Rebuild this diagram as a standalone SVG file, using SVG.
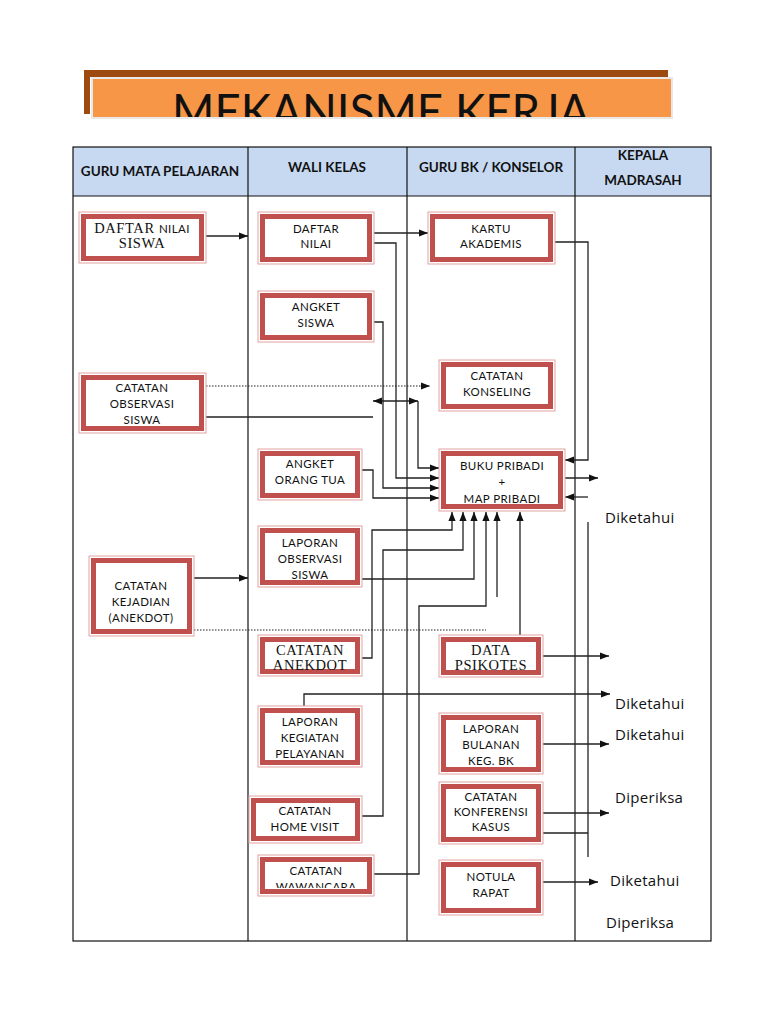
<svg xmlns="http://www.w3.org/2000/svg" width="768" height="1024" viewBox="0 0 768 1024">
<defs>
<style>
.t{font-family:Lato,"Liberation Sans",sans-serif;font-size:11.5px;letter-spacing:0.4px;fill:#111;text-anchor:middle}
.s{font-family:"Liberation Serif",serif;font-size:14.5px;letter-spacing:0.6px;fill:#111;text-anchor:middle}
.h{font-family:Lato,"Liberation Sans",sans-serif;font-size:13.5px;font-weight:bold;fill:#111;text-anchor:middle}
.k{font-family:"Open Sans","Liberation Sans",sans-serif;font-size:15px;letter-spacing:0.3px;fill:#111}
.bo{fill:#fff;stroke:#e3a3a1;stroke-width:1}
.bi{fill:#fff;stroke:#c0504d;stroke-width:5}
.c{fill:none;stroke:#222;stroke-width:1.3}
.d{fill:none;stroke:#222;stroke-width:1.1;stroke-dasharray:1.5 1.5}
</style>
<marker id="a" viewBox="0 0 10 10" refX="10" refY="5" markerWidth="9" markerHeight="9" markerUnits="userSpaceOnUse" orient="auto-start-reverse"><path d="M0,1 L10,5 L0,9 z" fill="#111"/></marker>
<clipPath id="tc"><rect x="92" y="78" width="580" height="39"/></clipPath>
<clipPath id="wc"><rect x="258" y="855" width="116" height="33"/></clipPath>
</defs>
<rect width="768" height="1024" fill="#fff"/>
<g id="title">
<path d="M84,70 H668 V77 H90 V114 H84 Z" fill="#9c4a0f"/>
<rect x="92" y="78" width="580" height="40" fill="#f79646" stroke="#e8e8e8" stroke-width="2"/>
<text x="381" y="129" clip-path="url(#tc)" font-family="Lato,'Liberation Sans',sans-serif" font-size="48" fill="#111" text-anchor="middle" textLength="418" lengthAdjust="spacingAndGlyphs">MEKANISME KERJA</text>
</g>
<g id="table">
<rect x="73" y="147" width="638" height="49" fill="#c6d9f1"/>
<rect x="73" y="147" width="638" height="794" fill="none" stroke="#111" stroke-width="1.2"/>
<line x1="73" y1="196" x2="711" y2="196" stroke="#111" stroke-width="1.2"/>
<line x1="248" y1="147" x2="248" y2="941" stroke="#111" stroke-width="1.2"/>
<line x1="407" y1="147" x2="407" y2="941" stroke="#111" stroke-width="1.2"/>
<line x1="575" y1="147" x2="575" y2="941" stroke="#111" stroke-width="1.2"/>
<text class="h" x="160" y="176">GURU MATA PELAJARAN</text>
<text class="h" x="327" y="172">WALI KELAS</text>
<text class="h" x="491" y="172">GURU BK / KONSELOR</text>
<text class="h" x="643" y="160">KEPALA</text>
<text class="h" x="643" y="185">MADRASAH</text>
</g>
<g id="connectors">
<line class="c" x1="206" y1="236" x2="248" y2="236" marker-end="url(#a)"/>
<line class="c" x1="374" y1="233" x2="428" y2="233" marker-end="url(#a)"/>
<polyline class="c" points="374,243 396,243 396,478 439,478" marker-end="url(#a)"/>
<polyline class="c" points="374,322 383,322 383,488 439,488" marker-end="url(#a)"/>
<polyline class="c" points="362,470 373,470 373,498 439,498" marker-end="url(#a)"/>
<line class="d" x1="206" y1="386" x2="430" y2="386" marker-end="url(#a)"/>
<line class="c" x1="206" y1="417" x2="373" y2="417"/>
<line class="c" x1="373" y1="401" x2="418" y2="401" marker-start="url(#a)" marker-end="url(#a)"/>
<polyline class="c" points="418,401 418,468 439,468" marker-end="url(#a)"/>
<polyline class="c" points="362,658 372,658 372,530 452,530 452,512" marker-end="url(#a)"/>
<polyline class="c" points="362,816 383,816 383,550 463,550 463,512" marker-end="url(#a)"/>
<polyline class="c" points="362,579 474,579 474,512" marker-end="url(#a)"/>
<polyline class="c" points="374,874 419,874 419,606 486,606 486,512" marker-end="url(#a)"/>
<line class="c" x1="497" y1="597" x2="497" y2="512" marker-end="url(#a)"/>
<line class="c" x1="520" y1="635" x2="520" y2="512" marker-end="url(#a)"/>
<line class="d" x1="194" y1="630" x2="486" y2="630"/>
<line class="c" x1="194" y1="578" x2="248" y2="578" marker-end="url(#a)"/>
<polyline class="c" points="304,706 304,694 610,694" marker-end="url(#a)"/>
<line class="c" x1="543" y1="656" x2="609" y2="656" marker-end="url(#a)"/>
<line class="c" x1="543" y1="744" x2="609" y2="744" marker-end="url(#a)"/>
<line class="c" x1="543" y1="813" x2="609" y2="813" marker-end="url(#a)"/>
<line class="c" x1="543" y1="833" x2="588" y2="833"/>
<line class="c" x1="543" y1="882" x2="598" y2="882" marker-end="url(#a)"/>
<polyline class="c" points="555,242 588,242 588,460 565,460" marker-end="url(#a)"/>
<line class="c" x1="565" y1="478" x2="598" y2="478" marker-end="url(#a)"/>
<line class="c" x1="588" y1="497" x2="565" y2="497" marker-end="url(#a)"/>
<line class="c" x1="588" y1="522" x2="588" y2="857"/>
</g>
<g id="n1"><rect class="bo" x="79" y="212" width="127" height="51"/><rect class="bi" x="83.5" y="216.5" width="118" height="42"/>
<text class="s" x="142" y="233">DAFTAR <tspan font-family="Lato,'Liberation Sans',sans-serif" font-size="11.5" letter-spacing="0.4">NILAI</tspan></text><text class="s" x="142" y="248">SISWA</text></g>
<g id="n2"><rect class="bo" x="79" y="373" width="127" height="60"/><rect class="bi" x="83.5" y="377.5" width="118" height="51"/>
<text class="t" x="142" y="392">CATATAN</text><text class="t" x="142" y="408">OBSERVASI</text><text class="t" x="142" y="424">SISWA</text></g>
<g id="n3"><rect class="bo" x="89" y="556" width="105" height="80"/><rect class="bi" x="93.5" y="560.5" width="96" height="71"/>
<text class="t" x="141" y="590">CATATAN</text><text class="t" x="141" y="606">KEJADIAN</text><text class="t" x="141" y="622">(ANEKDOT)</text></g>
<g id="n4"><rect class="bo" x="258" y="212" width="116" height="52"/><rect class="bi" x="262.5" y="216.5" width="107" height="43"/>
<text class="t" x="316" y="233">DAFTAR</text><text class="t" x="316" y="248">NILAI</text></g>
<g id="n5"><rect class="bo" x="258" y="291" width="116" height="51"/><rect class="bi" x="262.5" y="295.5" width="107" height="42"/>
<text class="t" x="316" y="311">ANGKET</text><text class="t" x="316" y="327">SISWA</text></g>
<g id="n6"><rect class="bo" x="258" y="449" width="104" height="51"/><rect class="bi" x="262.5" y="453.5" width="95" height="42"/>
<text class="t" x="310" y="468">ANGKET</text><text class="t" x="310" y="484">ORANG TUA</text></g>
<g id="n7"><rect class="bo" x="258" y="526" width="104" height="61"/><rect class="bi" x="262.5" y="530.5" width="95" height="52"/>
<text class="t" x="310" y="547">LAPORAN</text><text class="t" x="310" y="563">OBSERVASI</text><text class="t" x="310" y="579">SISWA</text></g>
<g id="n8"><rect class="bo" x="258" y="635" width="104" height="41"/><rect class="bi" x="262.5" y="639.5" width="95" height="32"/>
<text class="s" x="310" y="655">CATATAN</text><text class="s" x="310" y="670">ANEKDOT</text></g>
<g id="n9"><rect class="bo" x="258" y="706" width="104" height="61"/><rect class="bi" x="262.5" y="710.5" width="95" height="52"/>
<text class="t" x="310" y="726">LAPORAN</text><text class="t" x="310" y="742">KEGIATAN</text><text class="t" x="310" y="758">PELAYANAN</text></g>
<g id="n10"><rect class="bo" x="249" y="796" width="113" height="47"/><rect class="bi" x="253.5" y="800.5" width="104" height="38"/>
<text class="t" x="305" y="815">CATATAN</text><text class="t" x="305" y="831">HOME VISIT</text></g>
<g id="n11"><rect class="bo" x="258" y="855" width="116" height="41"/><rect class="bi" x="262.5" y="859.5" width="107" height="32"/>
<text class="t" x="316" y="875">CATATAN</text><text class="t" x="316" y="891" clip-path="url(#wc)">WAWANCARA</text></g>
<g id="n12"><rect class="bo" x="428" y="212" width="127" height="52"/><rect class="bi" x="432.5" y="216.5" width="118" height="43"/>
<text class="t" x="491" y="233">KARTU</text><text class="t" x="491" y="248">AKADEMIS</text></g>
<g id="n13"><rect class="bo" x="439" y="360" width="116" height="51"/><rect class="bi" x="443.5" y="364.5" width="107" height="42"/>
<text class="t" x="497" y="380">CATATAN</text><text class="t" x="497" y="396">KONSELING</text></g>
<g id="n14"><rect class="bo" x="439" y="449" width="126" height="62"/><rect class="bi" x="443.5" y="453.5" width="117" height="53"/>
<text class="t" x="502" y="470">BUKU PRIBADI</text><text class="t" x="502" y="486">+</text><text class="t" x="502" y="503">MAP PRIBADI</text></g>
<g id="n15"><rect class="bo" x="439" y="635" width="104" height="42"/><rect class="bi" x="443.5" y="639.5" width="95" height="33"/>
<text class="s" x="491" y="655">DATA</text><text class="s" x="491" y="670">PSIKOTES</text></g>
<g id="n16"><rect class="bo" x="439" y="713" width="104" height="61"/><rect class="bi" x="443.5" y="717.5" width="95" height="52"/>
<text class="t" x="491" y="733">LAPORAN</text><text class="t" x="491" y="749">BULANAN</text><text class="t" x="491" y="765">KEG. BK</text></g>
<g id="n17"><rect class="bo" x="439" y="782" width="104" height="62"/><rect class="bi" x="443.5" y="786.5" width="95" height="53"/>
<text class="t" x="491" y="801" font-size="10.5">CATATAN</text><text class="t" x="491" y="816" font-size="10.5">KONFERENSI</text><text class="t" x="491" y="831" font-size="10.5">KASUS</text></g>
<g id="n18"><rect class="bo" x="439" y="860" width="104" height="55"/><rect class="bi" x="443.5" y="864.5" width="95" height="46"/>
<text class="t" x="491" y="881">NOTULA</text><text class="t" x="491" y="897">RAPAT</text></g>
<g id="labels">
<text class="k" x="605" y="523">Diketahui</text>
<text class="k" x="615" y="709">Diketahui</text>
<text class="k" x="615" y="740">Diketahui</text>
<text class="k" x="615" y="803">Diperiksa</text>
<text class="k" x="610" y="886">Diketahui</text>
<text class="k" x="606" y="928">Diperiksa</text>
</g>
</svg>
